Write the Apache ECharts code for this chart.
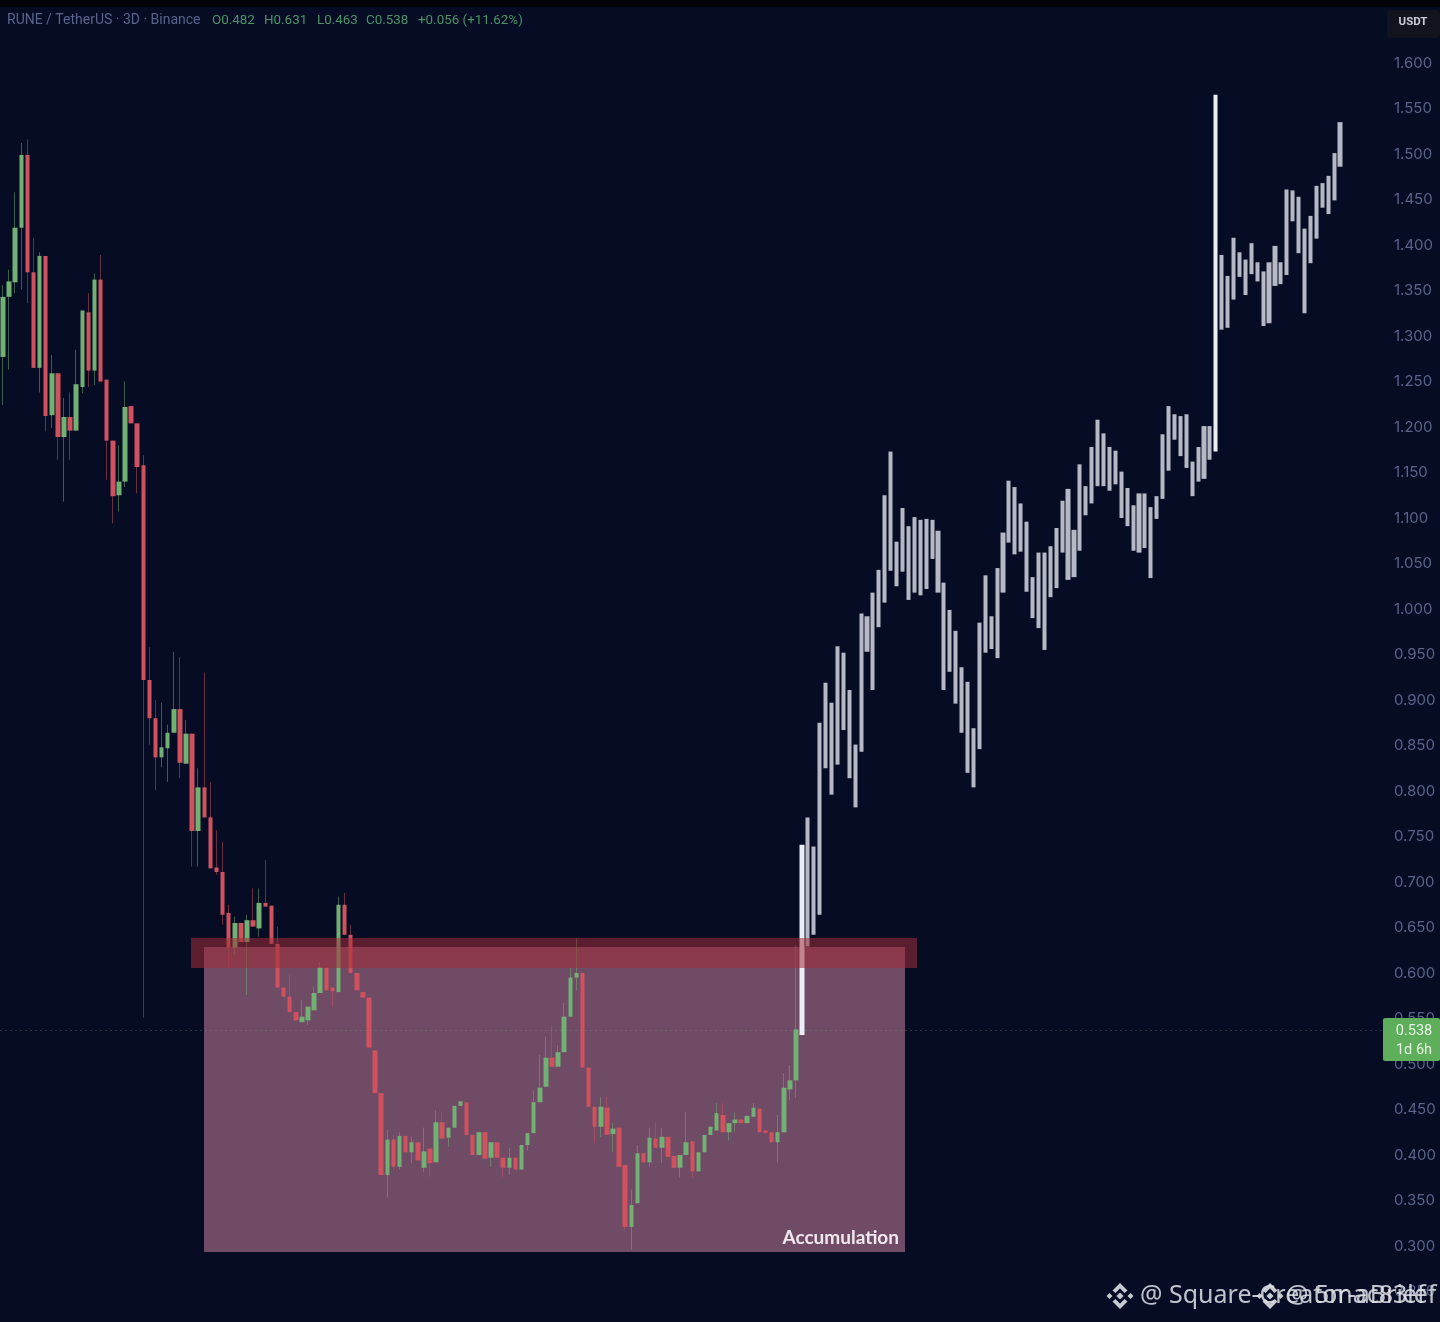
<!DOCTYPE html>
<html><head><meta charset="utf-8">
<style>html,body{margin:0;padding:0;background:#050c24;overflow:hidden}#c{width:1440px;height:1322px;filter:blur(0.7px)}</style>
<script src="https://cdn.jsdelivr.net/npm/echarts@6/dist/echarts.min.js"></script>
</head><body><div id="c"></div>
<script>
// RUNE/USDT market candles (green/red)
const opens=[1.277,1.343,1.359,1.419,1.499,1.370,1.265,1.388,1.213,1.259,1.189,1.211,1.196,1.244,1.326,1.262,1.362,1.252,1.185,1.125,1.140,1.223,1.204,1.158,0.922,0.880,0.837,0.847,0.864,0.890,0.830,0.863,0.756,0.804,0.771,0.716,0.711,0.666,0.628,0.655,0.634,0.658,0.649,0.677,0.674,0.632,0.584,0.574,0.557,0.546,0.548,0.559,0.578,0.606,0.584,0.579,0.675,0.642,0.600,0.579,0.573,0.515,0.468,0.378,0.417,0.387,0.421,0.403,0.414,0.386,0.407,0.392,0.436,0.419,0.430,0.454,0.458,0.422,0.400,0.425,0.397,0.414,0.397,0.386,0.397,0.384,0.411,0.424,0.458,0.475,0.507,0.497,0.513,0.552,0.595,0.600,0.496,0.453,0.431,0.452,0.423,0.430,0.389,0.321,0.347,0.402,0.392,0.418,0.408,0.420,0.399,0.386,0.400,0.415,0.382,0.403,0.422,0.427,0.444,0.425,0.435,0.439,0.435,0.442,0.451,0.427,0.425,0.414,0.425,0.472,0.482];
const closes=[1.343,1.360,1.419,1.499,1.370,1.265,1.388,1.212,1.259,1.189,1.211,1.196,1.247,1.328,1.262,1.362,1.250,1.185,1.124,1.140,1.222,1.204,1.156,0.922,0.880,0.837,0.848,0.864,0.890,0.831,0.863,0.756,0.804,0.771,0.715,0.711,0.664,0.628,0.655,0.634,0.658,0.651,0.677,0.673,0.632,0.584,0.574,0.557,0.548,0.552,0.563,0.578,0.606,0.581,0.580,0.675,0.642,0.600,0.581,0.573,0.518,0.468,0.378,0.417,0.387,0.421,0.403,0.414,0.394,0.404,0.391,0.436,0.418,0.430,0.454,0.459,0.422,0.400,0.425,0.396,0.414,0.397,0.386,0.397,0.384,0.411,0.424,0.458,0.474,0.507,0.497,0.513,0.552,0.595,0.600,0.496,0.453,0.431,0.453,0.422,0.429,0.387,0.321,0.345,0.402,0.392,0.419,0.408,0.420,0.398,0.386,0.400,0.414,0.382,0.403,0.422,0.431,0.446,0.425,0.435,0.439,0.435,0.443,0.452,0.425,0.424,0.414,0.425,0.474,0.482,0.538];
const lows=[1.224,1.263,1.347,1.351,1.336,1.265,1.238,1.195,1.199,1.164,1.118,1.164,1.196,1.237,1.244,1.246,1.250,1.142,1.094,1.107,1.134,1.204,1.127,0.551,0.851,0.801,0.826,0.810,0.864,0.814,0.830,0.717,0.717,0.771,0.715,0.708,0.653,0.606,0.620,0.634,0.576,0.651,0.640,0.673,0.632,0.584,0.574,0.557,0.548,0.546,0.543,0.559,0.578,0.581,0.563,0.579,0.642,0.600,0.581,0.573,0.518,0.468,0.378,0.353,0.384,0.384,0.403,0.391,0.394,0.381,0.376,0.392,0.418,0.409,0.430,0.454,0.422,0.400,0.400,0.396,0.387,0.397,0.376,0.378,0.384,0.384,0.405,0.424,0.458,0.475,0.497,0.497,0.513,0.552,0.581,0.496,0.453,0.413,0.420,0.422,0.403,0.387,0.318,0.296,0.347,0.392,0.387,0.408,0.391,0.398,0.386,0.375,0.400,0.375,0.382,0.403,0.422,0.427,0.425,0.416,0.425,0.435,0.435,0.442,0.425,0.424,0.414,0.392,0.425,0.460,0.463];
const highs=[1.356,1.373,1.458,1.512,1.516,1.408,1.392,1.388,1.279,1.259,1.232,1.238,1.285,1.328,1.347,1.369,1.389,1.252,1.185,1.180,1.250,1.223,1.204,1.169,0.958,0.900,0.897,0.873,0.953,0.947,0.878,0.863,0.825,0.930,0.810,0.757,0.744,0.675,0.662,0.655,0.664,0.693,0.693,0.724,0.674,0.651,0.584,0.598,0.557,0.570,0.563,0.585,0.612,0.606,0.584,0.684,0.688,0.653,0.600,0.579,0.573,0.515,0.468,0.428,0.422,0.425,0.421,0.420,0.414,0.430,0.407,0.449,0.447,0.430,0.454,0.459,0.458,0.422,0.425,0.425,0.414,0.414,0.397,0.408,0.397,0.411,0.424,0.471,0.510,0.530,0.541,0.521,0.567,0.606,0.638,0.600,0.496,0.453,0.464,0.464,0.435,0.430,0.389,0.362,0.411,0.402,0.430,0.436,0.430,0.420,0.399,0.400,0.447,0.415,0.403,0.422,0.431,0.457,0.457,0.435,0.447,0.439,0.443,0.457,0.451,0.427,0.425,0.444,0.490,0.499,0.631];
// Pale overdrawn bars after the breakout
const paleLows=[0.532,0.629,0.642,0.664,0.825,0.796,0.829,0.867,0.814,0.782,0.843,0.953,0.911,0.980,1.007,1.042,1.025,1.041,1.010,1.018,1.015,1.022,1.055,1.018,0.911,0.931,0.896,0.864,0.820,0.804,0.846,0.952,0.956,0.946,1.018,1.073,1.060,1.063,1.019,0.990,0.979,0.955,1.013,1.023,1.062,1.032,1.035,1.064,1.103,1.116,1.135,1.135,1.130,1.137,1.100,1.091,1.064,1.062,1.067,1.034,1.099,1.121,1.152,1.186,1.168,1.155,1.124,1.140,1.143,1.164,1.173,1.307,1.309,1.340,1.365,1.345,1.368,1.360,1.311,1.314,1.355,1.357,1.367,1.426,1.391,1.325,1.380,1.407,1.441,1.434,1.449,1.486];
const paleHighs=[0.741,0.771,0.739,0.875,0.919,0.897,0.959,0.952,0.911,0.851,0.995,0.992,1.018,1.043,1.125,1.173,1.074,1.111,1.091,1.101,1.098,1.099,1.098,1.086,1.029,0.999,0.976,0.936,0.920,0.869,0.985,1.037,0.992,1.045,1.084,1.141,1.134,1.116,1.096,1.035,1.062,1.062,1.069,1.089,1.119,1.132,1.087,1.159,1.135,1.178,1.208,1.193,1.178,1.174,1.151,1.133,1.114,1.127,1.127,1.112,1.124,1.192,1.223,1.214,1.212,1.214,1.162,1.178,1.201,1.201,1.565,1.389,1.366,1.408,1.392,1.384,1.402,1.381,1.371,1.381,1.399,1.381,1.461,1.460,1.453,1.418,1.432,1.465,1.468,1.476,1.501,1.535];
const brightPale=[0,70];
const headerTitle='RUNE / TetherUS · 3D · Binance';
const headerValues=['O0.482','H0.631','L0.463','C0.538','+0.056 (+11.62%)'];
const axisMin=0.25, axisMax=1.65, axisStep=0.05;

const BG='#050c24',UP='#72b074',DOWN='#d0525e',UPW='rgba(114,176,116,.5)',DOWNW='rgba(207,79,94,.5)',PALE='#b6b8c6',BRIGHT='#eceef6';
const FONT='Roboto, "Noto Sans", sans-serif';
const stepA=6.115, stepB=5.912, leftA=1-stepA/2, leftB=802-stepB/2;
const widthA=opens.length*stepA, widthB=paleLows.length*stepB;
const gridTop=17.5, gridHeight=1274;
const idx=a=>a.map((_,i)=>String(i));
const wickData=opens.map((o,i)=>[o,closes[i],lows[i],highs[i]]);
const bodyData=opens.map((o,i)=>[o,closes[i],Math.min(o,closes[i]),Math.max(o,closes[i])]);
const paleData=paleLows.map((l,i)=>{
  const v=[l,paleHighs[i],l,paleHighs[i]];
  return brightPale.includes(i)?{value:v,itemStyle:{color:BRIGHT,borderColor:BRIGHT}}:v;
});
const T=(x,y,text,fill,size,extra)=>({type:'text',z:60,x,y,style:Object.assign({text,fill,font:`${size}px ${FONT}`,textVerticalAlign:'middle'},extra||{})});
function logo(cx,cy,fill){
  const d=(x,y,r)=>({type:'polygon',z:60,shape:{points:[[x,y-r],[x+r,y],[x,y+r],[x-r,y]]},style:{fill}});
  const chev=(s)=>({type:'polygon',z:60,shape:{points:[[cx,cy+s*13],[cx+7.5,cy+s*5.5],[cx+4.5,cy+s*3],[cx,cy+s*7.6],[cx-4.5,cy+s*3],[cx-7.5,cy+s*5.5]]},style:{fill}});
  return [d(cx,cy,3.6),d(cx-10.5,cy,3),d(cx+10.5,cy,3),chev(-1),chev(1)];
}
const WM='rgba(222,224,230,.86)', WMF='25px "Noto Sans", sans-serif';
const graphics=[
  {type:'rect',z:0,shape:{x:204,y:947,width:701,height:305},style:{fill:'#6f4b66'}},
  {type:'rect',z:40,shape:{x:191,y:938,width:726,height:30},style:{fill:'rgba(160,45,54,.55)'}},
  {type:'line',z:1,shape:{x1:0,y1:1030.5,x2:1383,y2:1030.5},style:{stroke:'rgba(120,170,130,.28)',lineWidth:1,lineDash:[2,3]}},
  {type:'rect',z:50,shape:{x:0,y:0,width:1440,height:7},style:{fill:'#03040a'}},
  {type:'rect',z:50,shape:{x:1387,y:10,width:53,height:28,r:4},style:{fill:'#11131d'}},
  T(1413,22,'USDT','#c9ccd8',11.5,{textAlign:'center',font:`bold 11.5px ${FONT}`}),
  T(7,20.5,headerTitle,'#5a648a',14),
  T(212,20.5,headerValues[0],'#4c9468',13.4),
  T(264,20.5,headerValues[1],'#4c9468',13.4),
  T(317,20.5,headerValues[2],'#4c9468',13.4),
  T(366,20.5,headerValues[3],'#4c9468',13.4),
  T(418,20.5,headerValues[4],'#4c9468',13.4),
  T(899,1237.5,'Accumulation','#f1e8ef',19,{textAlign:'right',font:`bold 19px Lato, ${FONT}`}),
  {type:'rect',z:50,shape:{x:1383,y:1018,width:57,height:43,r:2},style:{fill:'#5fae5c'}},
  T(1414,1031,'0.538','#e4f4e2',14.5,{textAlign:'center'}),
  T(1414,1050,'1d 6h','#e4f4e2',14.5,{textAlign:'center'}),
  T(1140,1296,'@ Square-Creator-aBrief',WM,25,{font:WMF}),
  T(1286,1296,'@ 5mac83lef',WM,25,{font:WMF}),
  ...logo(1120,1296,'rgba(222,224,230,.9)'),
  ...logo(1270,1296,'rgba(222,224,230,.9)')
];
const chart=echarts.init(document.getElementById('c'));
chart.setOption({
  animation:false,backgroundColor:BG,
  grid:[{left:leftA,top:gridTop,width:widthA,height:gridHeight},{left:leftB,top:gridTop,width:widthB,height:gridHeight}],
  xAxis:[{type:'category',gridIndex:0,data:idx(opens),show:false},{type:'category',gridIndex:1,data:idx(paleLows),show:false}],
  yAxis:[
    {type:'value',gridIndex:0,min:axisMin,max:axisMax,interval:axisStep,show:false},
    {type:'value',gridIndex:1,position:'right',min:axisMin,max:axisMax,interval:axisStep,
     axisLine:{show:false},axisTick:{show:false},splitLine:{show:false},
     axisLabel:{color:'#5a6488',fontSize:15,fontFamily:'Inter, Roboto, sans-serif',margin:1394-(leftB+widthB),padding:[3,0,0,0],
       formatter:v=>v>1.62?'':v.toFixed(3)}}
  ],
  series:[
    {type:'candlestick',name:'wicks',xAxisIndex:0,yAxisIndex:0,z:3,barWidth:1,data:wickData,
     itemStyle:{color:UPW,color0:DOWNW,borderColor:UPW,borderColor0:DOWNW,borderWidth:1}},
    {type:'candlestick',name:'bodies',xAxisIndex:0,yAxisIndex:0,z:4,barWidth:5,data:bodyData,
     itemStyle:{color:UP,color0:DOWN,borderWidth:0}},
    {type:'candlestick',name:'pale',xAxisIndex:1,yAxisIndex:1,z:4,barWidth:4.6,data:paleData,
     itemStyle:{color:PALE,color0:PALE,borderColor:PALE,borderColor0:PALE,borderWidth:0}}
  ],
  graphic:graphics
});
</script></body></html>
